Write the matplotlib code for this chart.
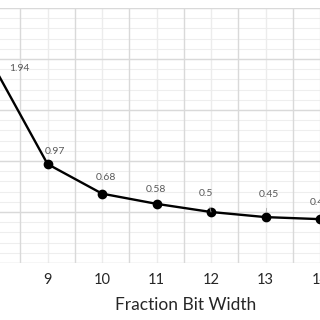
import matplotlib
matplotlib.use("Agg")
import matplotlib.pyplot as plt
import numpy as np

bit_width = [8, 9, 10, 11, 12, 13, 14]
error = [1.94, 0.97, 0.68, 0.58, 0.5, 0.45, 0.43]
labels = ["1.94", "0.97", "0.68", "0.58", "0.5", "0.45", "0.43"]
tick_vals = [9, 10, 11, 12, 13, 14]
x_title = "Fraction Bit Width"

# label offsets in pixels (style)
offsets = [(26, -3), (7, 13), (4, 16), (-1, 14), (-5, 19), (3, 23), (0, 17)]
leader = [False, False, False, False, True, True, False]

plt.rcParams['font.family'] = ['Lato', 'DejaVu Sans']

fig = plt.figure(figsize=(3.2, 3.2), dpi=100)
ax = fig.add_axes([0, 57 / 320, 1, 255 / 320])

ax.set_xlim(9 - 48 / 55, 9 + 272 / 55)
ax.set_ylim(0, 2.5)

# grid
for v in np.arange(8.5, 15, 1):
    ax.axvline(v, color="#d9d9d9", lw=1.0, zorder=1)
for v in tick_vals:
    ax.axvline(v, color="#ececec", lw=1.0, zorder=0.9)
for v in np.arange(0, 2.51, 0.5):
    ax.axhline(v, color="#d9d9d9", lw=1.0, zorder=1)
for v in np.arange(0, 2.51, 0.1):
    ax.axhline(v, color="#eeeeee", lw=0.8, zorder=0.8)

ax.plot(bit_width, error, color="black", lw=1.7, marker="o", ms=6, zorder=3,
        clip_on=True)

for xv, yv, lab, (dx, dy), ld in zip(bit_width, error, labels, offsets, leader):
    kw = {}
    if ld:
        kw["arrowprops"] = dict(arrowstyle="-", color="#a6a6a6", lw=0.6,
                                shrinkA=5, shrinkB=4)
    ax.annotate(lab, (xv, yv), xytext=(dx, dy), textcoords="offset pixels",
                ha="center", va="center", fontsize=7.5, color="#595959",
                annotation_clip=False, zorder=4, **kw)

for s in ax.spines.values():
    s.set_visible(False)
ax.set_yticks([])
ax.set_xticks(tick_vals)
ax.set_xticklabels([str(t) for t in tick_vals], fontsize=10.5, color="#262626")
ax.tick_params(axis="x", length=0, pad=7)
ax.set_xlabel(x_title, fontsize=12.5, color="#262626")
ax.xaxis.set_label_coords(186 / 320, -34 / 255)

fig.savefig("out.png", dpi=100)
